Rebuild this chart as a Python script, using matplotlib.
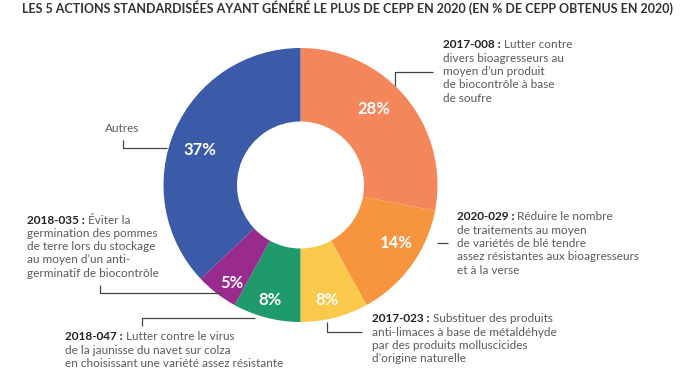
import matplotlib.pyplot as plt
import numpy as np

W, H = 690, 388

# data
shares = [28, 14, 8, 8, 5, 37]
pct_labels = ["28%", "14%", "8%", "8%", "5%", "37%"]
colors = ["#F3875B", "#F7953F", "#FAC84A", "#1E9A6B", "#9A2B8E", "#3B5BA8"]
codes = ["2017-008", "2020-029", "2017-023", "2018-047", "2018-035"]
descriptions = [
    ["Lutter contre", "divers bioagresseurs au", "moyen d\u2019un produit",
     "de biocontr\u00f4le \u00e0 base", "de soufre"],
    ["R\u00e9duire le nombre", "de traitements au moyen", "de vari\u00e9t\u00e9s de bl\u00e9 tendre",
     "assez r\u00e9sistantes aux bioagresseurs", "et \u00e0 la verse"],
    ["Substituer des produits", "anti-limaces \u00e0 base de m\u00e9tald\u00e9hyde",
     "par des produits molluscicides", "d\u2019origine naturelle"],
    ["Lutter contre le virus", "de la jaunisse du navet sur colza",
     "en choisissant une vari\u00e9t\u00e9 assez r\u00e9sistante"],
    ["\u00c9viter la", "germination des pommes", "de terre lors du stockage",
     "au moyen d\u2019un anti-", "germinatif de biocontr\u00f4le"],
]
title = ("LES 5 ACTIONS STANDARDIS\u00c9ES AYANT G\u00c9N\u00c9R\u00c9 LE PLUS DE CEPP EN 2020 "
         "(EN % DE CEPP OBTENUS EN 2020)")

# layout (pixels, origin top-left)
center = (300.5, 185)
r_out, r_in = 137, 63.5
pct_radius = [0.77, 0.82, 0.86, 0.87, 0.87, 0.775]
pct_shift = [6.7, 5, -1.4, -0.5, 2.9, 4.2]  # degrees, counter-clockwise
text_pos = [(443, 45), (457, 217), (372, 319), (65, 337), (27, 220)]
leaders = [
    [(433, 72), (395, 72), (395, 86)],
    [(437, 243), (448, 243)],
    [(327, 322), (327, 332), (362, 332)],
    [(255, 318), (142, 318), (142, 326)],
    [(222, 293), (100, 293), (100, 285)],
    [(167, 148), (123, 148), (123, 140)],
]
line_step = 13.3
font = "Lato"
fs = 8.5
grey = "#5a5a5a"
dark = "#222222"


def py(y):
    return H - y


fig = plt.figure(figsize=(W / 100, H / 100), dpi=100)
ax = fig.add_axes([0, 0, 1, 1])
ax.axis("off")

cx, cy = center[0], py(center[1])
wedges, _ = ax.pie(shares, colors=colors, startangle=90, counterclock=False,
                   center=(cx, cy), radius=r_out,
                   wedgeprops=dict(width=r_out - r_in, linewidth=0))
ax.set_xlim(0, W)
ax.set_ylim(0, H)
ax.set_aspect("equal")

for w, lab, d, s in zip(wedges, pct_labels, pct_radius, pct_shift):
    ang = np.deg2rad((w.theta1 + w.theta2) / 2 + s)
    ax.text(cx + d * r_out * np.cos(ang), cy + d * r_out * np.sin(ang), lab,
            color="white", fontsize=12, fontweight="bold", family=font,
            ha="center", va="center")

for code, lines, (x, y) in zip(codes, descriptions, text_pos):
    t = ax.text(x, py(y), code + " :", fontsize=fs, fontweight="bold",
                color=dark, family=font, ha="left", va="center")
    ax.annotate(" " + lines[0], xy=(1, 0), xycoords=t, fontsize=fs,
                color=grey, family=font, ha="left", va="bottom")
    for i, line in enumerate(lines[1:], start=1):
        ax.text(x, py(y + i * line_step), line, fontsize=fs, color=grey,
                family=font, ha="left", va="center")

ax.text(122, py(128), "Autres", fontsize=fs, color=grey, family=font,
        ha="center", va="center")

for pts in leaders:
    xs = [p[0] for p in pts]
    ys = [py(p[1]) for p in pts]
    ax.plot(xs, ys, color="#444444", linewidth=0.9, solid_capstyle="butt")

ax.text(22, py(8), title, fontsize=9, fontweight="bold", color="#333333",
        family=font, ha="left", va="center")

fig.savefig("out.png", dpi=100, facecolor="white")
